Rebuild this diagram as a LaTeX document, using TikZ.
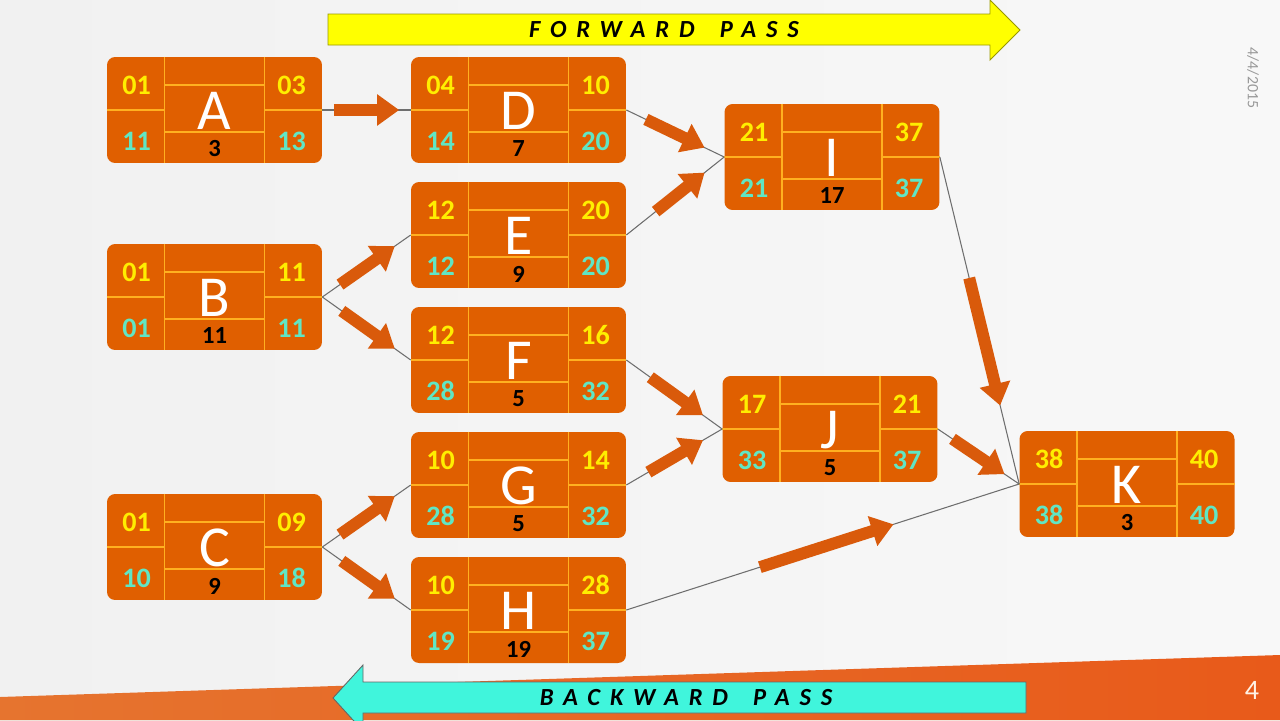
\documentclass[tikz,border=0pt]{standalone}
\usepackage{fontspec}
\setmainfont{Carlito}
\usepackage{tikz}
\usetikzlibrary{arrows.meta}

\definecolor{actorange}{HTML}{E05F00}
\definecolor{cellorange}{HTML}{FFB020}
\definecolor{earlyyellow}{HTML}{FFEE00}
\definecolor{latecyan}{HTML}{60E6C4}
\definecolor{linkgray}{HTML}{6E6E6E}
\definecolor{arroworange}{HTML}{D95A0B}
\definecolor{bannerYellow}{HTML}{FFFF00}
\definecolor{bannerCyan}{HTML}{40F5DC}
\definecolor{bandleft}{HTML}{E6742F}
\definecolor{bandright}{HTML}{E85A1A}
\definecolor{bgleft}{HTML}{F1F1F1}
\definecolor{bgright}{HTML}{F8F8F8}

\begin{document}
\begin{tikzpicture}[x=0.02cm, y=-0.02cm,
    actbox/.style={rectangle, rounded corners=0.16cm, fill=actorange, minimum width=4.3cm, minimum height=2.12cm, inner sep=0pt},
    cellline/.style={draw=cellorange, line width=0.8pt},
    early/.style={text=earlyyellow, font=\fontsize{16}{16}\selectfont\bfseries},
    late/.style={text=latecyan, font=\fontsize{16}{16}\selectfont\bfseries},
    actname/.style={text=white, inner sep=0pt, font=\fontsize{33}{33}\selectfont},
    dur/.style={text=black, inner sep=0pt, font=\fontsize{14}{14}\selectfont\bfseries},
    link/.style={draw=linkgray, line width=0.6pt},
    blockarrow/.style={draw=arroworange, line width=0.24cm, -{Triangle[length=0.44cm, width=0.6cm]}},
    passtext/.style={font=\fontsize{14}{14}\selectfont\bfseries\itshape\addfontfeature{LetterSpace=40}}
]
    \useasboundingbox (0,0) rectangle (1280,720);
    \clip (0,0) rectangle (1280,720);

    % background and bottom band
    \shade[left color=bgleft, right color=bgright] (0,0) rectangle (1280,720);
    \shade[left color=bandleft, right color=bandright]
        (0,697) -- (1280,655) -- (1280,720) -- (0,720) -- cycle;

    % pass banners
    \draw[draw=bannerYellow!60!black, fill=bannerYellow, line width=0.5pt]
        (328,14) -- (990,14) -- (990,0) -- (1020,30) -- (990,60) -- (990,45) -- (328,45) -- cycle;
    \node[passtext] (fwd) at (664,30) {FORWARD\hspace{0.4em} PASS};
    \draw[draw=black!60, fill=bannerCyan, line width=0.5pt]
        (1026,682) -- (363,682) -- (363,665) -- (333,698) -- (363,731) -- (363,713) -- (1026,713) -- cycle;
    \node[passtext] (bwd) at (686,698) {BACKWARD\hspace{0.4em} PASS};

    % activities: name / x / y / ES / EF / LS / LF / duration
    \foreach \n/\cx/\cy/\es/\ef/\ls/\lf/\d in {
        A/214.5/110/01/03/11/13/3,
        B/214.5/297/01/11/01/11/11,
        C/214.5/547/01/09/10/18/9,
        D/518.5/110/04/10/14/20/7,
        E/518.5/235/12/20/12/20/9,
        F/518.5/360/12/16/28/32/5,
        G/518.5/485/10/14/28/32/5,
        H/518.5/610/10/28/19/37/19,
        I/832/157/21/37/21/37/17,
        J/830/429/17/21/33/37/5,
        K/1127/484/38/40/38/40/3} {
        \node[actbox] (\n) at (\cx,\cy) {};
        \draw[cellline] ([xshift=-1cm]\n.north) -- ([xshift=-1cm]\n.south)
                        ([xshift=1cm]\n.north) -- ([xshift=1cm]\n.south)
                        (\n.west) -- ([xshift=-1cm]\n.center)
                        ([xshift=1cm]\n.center) -- (\n.east)
                        ([shift={(-50,-25)}]\n.center) -- ([shift={(50,-25)}]\n.center)
                        ([shift={(-50,22)}]\n.center) -- ([shift={(50,22)}]\n.center);
        \node[early] (\n-es) at ([shift={(-78,-25)}]\n.center) {\es};
        \node[early] (\n-ef) at ([shift={(77,-25)}]\n.center) {\ef};
        \node[late] (\n-ls) at ([shift={(-78,31)}]\n.center) {\ls};
        \node[late] (\n-lf) at ([shift={(77,31)}]\n.center) {\lf};
        \node[actname] (\n-name) at ([shift={(0,1)}]\n.center) {\n};
        \node[dur] (\n-dur) at ([shift={(0,39)}]\n.center) {\d};
    }

    % dependencies
    \foreach \s/\t/\p/\q in {A/D/0.13/0.87, D/I/0.2/0.8, E/I/0.3/0.8, B/E/0.2/0.82,
        B/F/0.22/0.82, F/J/0.25/0.8, G/J/0.23/0.8, C/G/0.2/0.82, C/H/0.22/0.82,
        I/K/0.37/0.76, J/K/0.18/0.82, H/K/0.34/0.68} {
        \draw[link] (\s.east) -- (\t.west) coordinate[pos=\p] (\s\t-a) coordinate[pos=\q] (\s\t-b);
        \draw[blockarrow] (\s\t-a) -- (\s\t-b);
    }

    % slide furniture
    \node[text=black!40, rotate=-90, font=\fontsize{9}{9}\selectfont] (date) at (1253,78) {4/4/2015};
    \node[text=white!90!orange, font=\fontsize{16}{16}\selectfont] (page) at (1252,690) {4};
\end{tikzpicture}
\end{document}
